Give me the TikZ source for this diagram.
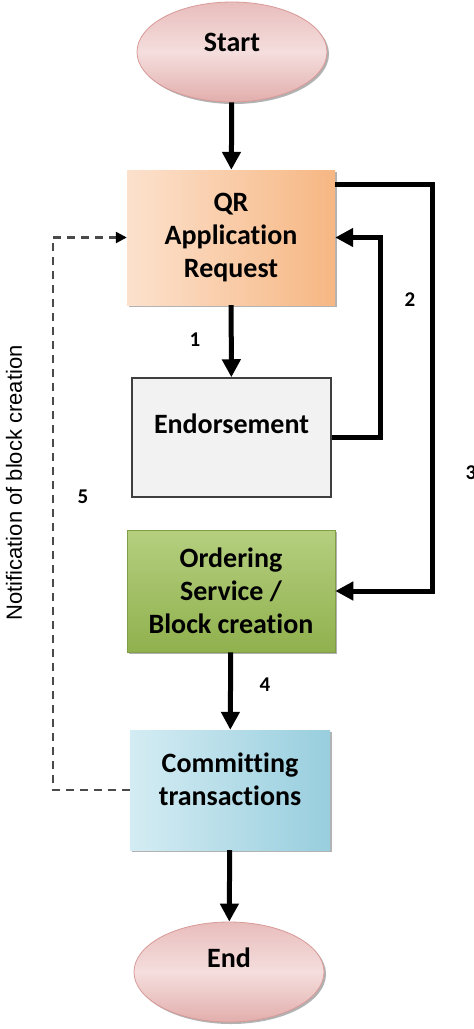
\documentclass[tikz,border=0pt]{standalone}
\usepackage{fontspec}
\setmainfont{Carlito}[Ligatures=NoCommon]
\newfontfamily\notefont{Liberation Sans}
\usetikzlibrary{shapes.geometric,arrows.meta,shadows}
\definecolor{termtop}{HTML}{E8BDBC}
\definecolor{termmid}{HTML}{F4DEDD}
\definecolor{termbot}{HTML}{E2AEAC}
\definecolor{termedge}{HTML}{D89A98}
\definecolor{qrlight}{HTML}{FCE1CD}
\definecolor{qrdark}{HTML}{F6B783}
\definecolor{ordtop}{HTML}{B5CF7F}
\definecolor{ordbot}{HTML}{90B14E}
\definecolor{ordedge}{HTML}{7F9E45}
\definecolor{comlight}{HTML}{D4ECF3}
\definecolor{comdark}{HTML}{98CEDE}
\definecolor{endfill}{HTML}{F2F2F2}
\definecolor{endedge}{HTML}{3F3F3F}
\definecolor{dashgray}{HTML}{4A4A4A}
\tikzset{>={Triangle[length=18pt,width=18pt]}}

\begin{document}
\begin{tikzpicture}
    [
      x=1pt, y=-1pt,
      boxtext/.style={font=\fontsize{28}{33}\selectfont\bfseries, align=center},
      shade/.style={drop shadow={shadow xshift=2pt, shadow yshift=-2pt, opacity=0.3, fill=black}},
      term/.style={ellipse, boxtext, draw=termedge, line width=0.8pt, minimum width=190pt, minimum height=100pt,
        top color=termtop, bottom color=termbot, middle color=termmid, shade},
      qrbox/.style={rectangle, boxtext, minimum width=208pt, minimum height=135pt,
        left color=qrlight, right color=qrdark, shade},
      endbox/.style={rectangle, boxtext, draw=endedge, line width=1.5pt, fill=endfill,
        minimum width=199pt, minimum height=119pt, text depth=28pt},
      ordbox/.style={rectangle, boxtext, draw=ordedge, line width=0.6pt, minimum width=208pt, minimum height=122pt,
        top color=ordtop, bottom color=ordbot, shade},
      combox/.style={rectangle, boxtext, minimum width=200pt, minimum height=120pt,
        left color=comlight, right color=comdark, shade, text depth=22pt},
      step label/.style={font=\fontsize{21}{25}\selectfont\bfseries},
      arr/.style={->, draw, line width=5pt},
      notify/.style={-{Triangle[length=11pt,width=11pt,black]}, draw=dashgray, line width=2.4pt, dash pattern=on 8pt off 6pt}
    ]
    \fill [white] (0,0) rectangle (474,1029);
    \useasboundingbox (0,0) rectangle (474,1029);
    \clip (0,0) rectangle (474,1029);

    \node (start) [term, text depth=20pt] at (232,52) {Start};
    \node (qr) [qrbox] at (231,237.5) {QR\\Application\\Request};
    \node (endorse) [endbox] at (231.5,437.5) {Endorsement};
    \node (ordering) [ordbox] at (231,591) {Ordering\\Service /\\Block creation};
    \node (commit) [combox] at (230,790) {Committing\\transactions};
    \node (end) [term, text depth=28pt] at (229,972) {End};

    \draw [arr] (start) -- (qr);
    \draw [arr] (qr) -- (endorse);
    \draw [arr] (endorse.east) -- ++(49,0) |- (qr.east);
    \draw [arr] ([yshift=-15pt]qr.north east) -- ++(97,0) |- (ordering.east);
    \draw [arr] (ordering) -- (commit);
    \draw [arr] (commit) -- (end);
    \draw [notify] (commit.west) -- ++(-77,0) |- (qr.west);

    \node (n-1) [step label] at (195,340) {1};
    \node (n-2) [step label] at (410,300) {2};
    \node (n-3) [step label] at (471,473) {3};
    \node (n-4) [step label] at (265,685) {4};
    \node (n-5) [step label] at (83,497) {5};
    \node (note) [rotate=90, font=\notefont\fontsize{22}{26}\selectfont] at (14,483) {Notification of block creation};
  \end{tikzpicture}
\end{document}
